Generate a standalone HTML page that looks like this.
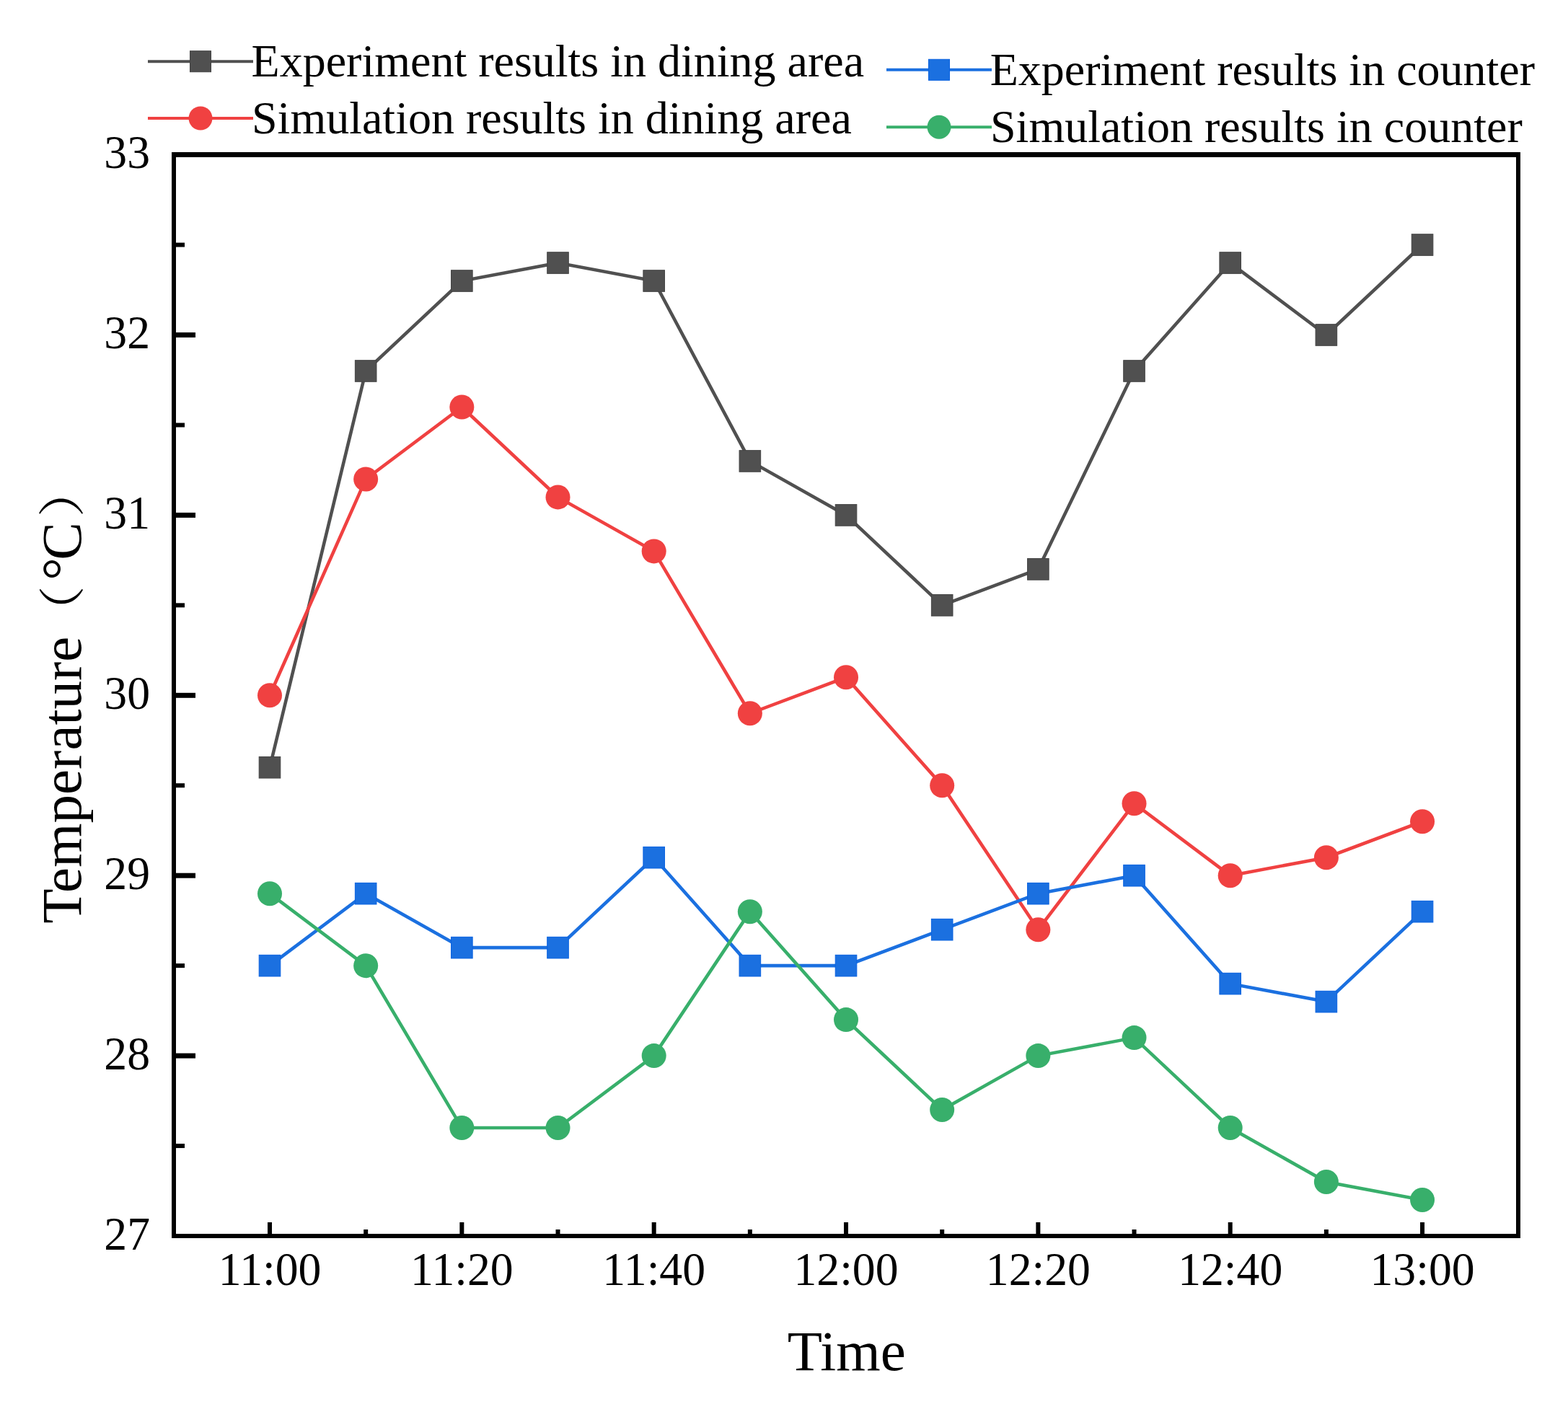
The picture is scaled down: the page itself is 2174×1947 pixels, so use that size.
<!DOCTYPE html>
<html><head><meta charset="utf-8"><title>Temperature chart</title>
<style>html,body{margin:0;padding:0;background:#fff;}svg{display:block;}text{font-family:'Liberation Serif', 'Times New Roman', serif;fill:#000;}</style></head><body>
<svg width="2174" height="1947" viewBox="0 0 2174 1947">
<rect x="0" y="0" width="2174" height="1947" fill="#fff"/>
<polyline points="374.00,1064.26 507.17,514.48 640.34,389.53 773.51,364.54 906.68,389.53 1039.85,639.43 1173.02,714.40 1306.19,839.35 1439.36,789.37 1572.53,514.48 1705.70,364.54 1838.87,464.50 1972.04,339.55" fill="none" stroke="#505050" stroke-width="4.6" stroke-linejoin="miter"/>
<rect x="359.20" y="1049.46" width="29.60" height="29.60" fill="#505050" stroke="#444444" stroke-width="1"/>
<rect x="492.37" y="499.68" width="29.60" height="29.60" fill="#505050" stroke="#444444" stroke-width="1"/>
<rect x="625.54" y="374.73" width="29.60" height="29.60" fill="#505050" stroke="#444444" stroke-width="1"/>
<rect x="758.71" y="349.74" width="29.60" height="29.60" fill="#505050" stroke="#444444" stroke-width="1"/>
<rect x="891.88" y="374.73" width="29.60" height="29.60" fill="#505050" stroke="#444444" stroke-width="1"/>
<rect x="1025.05" y="624.63" width="29.60" height="29.60" fill="#505050" stroke="#444444" stroke-width="1"/>
<rect x="1158.22" y="699.60" width="29.60" height="29.60" fill="#505050" stroke="#444444" stroke-width="1"/>
<rect x="1291.39" y="824.55" width="29.60" height="29.60" fill="#505050" stroke="#444444" stroke-width="1"/>
<rect x="1424.56" y="774.57" width="29.60" height="29.60" fill="#505050" stroke="#444444" stroke-width="1"/>
<rect x="1557.73" y="499.68" width="29.60" height="29.60" fill="#505050" stroke="#444444" stroke-width="1"/>
<rect x="1690.90" y="349.74" width="29.60" height="29.60" fill="#505050" stroke="#444444" stroke-width="1"/>
<rect x="1824.07" y="449.70" width="29.60" height="29.60" fill="#505050" stroke="#444444" stroke-width="1"/>
<rect x="1957.24" y="324.75" width="29.60" height="29.60" fill="#505050" stroke="#444444" stroke-width="1"/>
<polyline points="374.00,964.30 507.17,664.42 640.34,564.46 773.51,689.41 906.68,764.38 1039.85,989.29 1173.02,939.31 1306.19,1089.25 1439.36,1289.17 1572.53,1114.24 1705.70,1214.20 1838.87,1189.21 1972.04,1139.23" fill="none" stroke="#F04141" stroke-width="4.6" stroke-linejoin="miter"/>
<circle cx="374.00" cy="964.30" r="17.00" fill="#F04141"/>
<circle cx="507.17" cy="664.42" r="17.00" fill="#F04141"/>
<circle cx="640.34" cy="564.46" r="17.00" fill="#F04141"/>
<circle cx="773.51" cy="689.41" r="17.00" fill="#F04141"/>
<circle cx="906.68" cy="764.38" r="17.00" fill="#F04141"/>
<circle cx="1039.85" cy="989.29" r="17.00" fill="#F04141"/>
<circle cx="1173.02" cy="939.31" r="17.00" fill="#F04141"/>
<circle cx="1306.19" cy="1089.25" r="17.00" fill="#F04141"/>
<circle cx="1439.36" cy="1289.17" r="17.00" fill="#F04141"/>
<circle cx="1572.53" cy="1114.24" r="17.00" fill="#F04141"/>
<circle cx="1705.70" cy="1214.20" r="17.00" fill="#F04141"/>
<circle cx="1838.87" cy="1189.21" r="17.00" fill="#F04141"/>
<circle cx="1972.04" cy="1139.23" r="17.00" fill="#F04141"/>
<polyline points="374.00,1339.15 507.17,1239.19 640.34,1314.16 773.51,1314.16 906.68,1189.21 1039.85,1339.15 1173.02,1339.15 1306.19,1289.17 1439.36,1239.19 1572.53,1214.20 1705.70,1364.14 1838.87,1389.13 1972.04,1264.18" fill="none" stroke="#1B70E0" stroke-width="4.6" stroke-linejoin="miter"/>
<rect x="359.20" y="1324.35" width="29.60" height="29.60" fill="#1B70E0" stroke="#0A62E0" stroke-width="1"/>
<rect x="492.37" y="1224.39" width="29.60" height="29.60" fill="#1B70E0" stroke="#0A62E0" stroke-width="1"/>
<rect x="625.54" y="1299.36" width="29.60" height="29.60" fill="#1B70E0" stroke="#0A62E0" stroke-width="1"/>
<rect x="758.71" y="1299.36" width="29.60" height="29.60" fill="#1B70E0" stroke="#0A62E0" stroke-width="1"/>
<rect x="891.88" y="1174.41" width="29.60" height="29.60" fill="#1B70E0" stroke="#0A62E0" stroke-width="1"/>
<rect x="1025.05" y="1324.35" width="29.60" height="29.60" fill="#1B70E0" stroke="#0A62E0" stroke-width="1"/>
<rect x="1158.22" y="1324.35" width="29.60" height="29.60" fill="#1B70E0" stroke="#0A62E0" stroke-width="1"/>
<rect x="1291.39" y="1274.37" width="29.60" height="29.60" fill="#1B70E0" stroke="#0A62E0" stroke-width="1"/>
<rect x="1424.56" y="1224.39" width="29.60" height="29.60" fill="#1B70E0" stroke="#0A62E0" stroke-width="1"/>
<rect x="1557.73" y="1199.40" width="29.60" height="29.60" fill="#1B70E0" stroke="#0A62E0" stroke-width="1"/>
<rect x="1690.90" y="1349.34" width="29.60" height="29.60" fill="#1B70E0" stroke="#0A62E0" stroke-width="1"/>
<rect x="1824.07" y="1374.33" width="29.60" height="29.60" fill="#1B70E0" stroke="#0A62E0" stroke-width="1"/>
<rect x="1957.24" y="1249.38" width="29.60" height="29.60" fill="#1B70E0" stroke="#0A62E0" stroke-width="1"/>
<polyline points="374.00,1239.19 507.17,1339.15 640.34,1564.06 773.51,1564.06 906.68,1464.10 1039.85,1264.18 1173.02,1414.12 1306.19,1539.07 1439.36,1464.10 1572.53,1439.11 1705.70,1564.06 1838.87,1639.03 1972.04,1664.02" fill="none" stroke="#38AF6B" stroke-width="4.6" stroke-linejoin="miter"/>
<circle cx="374.00" cy="1239.19" r="17.00" fill="#38AF6B"/>
<circle cx="507.17" cy="1339.15" r="17.00" fill="#38AF6B"/>
<circle cx="640.34" cy="1564.06" r="17.00" fill="#38AF6B"/>
<circle cx="773.51" cy="1564.06" r="17.00" fill="#38AF6B"/>
<circle cx="906.68" cy="1464.10" r="17.00" fill="#38AF6B"/>
<circle cx="1039.85" cy="1264.18" r="17.00" fill="#38AF6B"/>
<circle cx="1173.02" cy="1414.12" r="17.00" fill="#38AF6B"/>
<circle cx="1306.19" cy="1539.07" r="17.00" fill="#38AF6B"/>
<circle cx="1439.36" cy="1464.10" r="17.00" fill="#38AF6B"/>
<circle cx="1572.53" cy="1439.11" r="17.00" fill="#38AF6B"/>
<circle cx="1705.70" cy="1564.06" r="17.00" fill="#38AF6B"/>
<circle cx="1838.87" cy="1639.03" r="17.00" fill="#38AF6B"/>
<circle cx="1972.04" cy="1664.02" r="17.00" fill="#38AF6B"/>
<rect x="238" y="211" width="1870" height="7" fill="#000"/>
<rect x="238" y="1711" width="1870" height="6" fill="#000"/>
<rect x="238" y="211" width="6" height="1506" fill="#000"/>
<rect x="2102" y="211" width="6" height="1506" fill="#000"/>
<rect x="244" y="1460.60" width="27" height="7" fill="#000"/>
<rect x="244" y="1210.70" width="27" height="7" fill="#000"/>
<rect x="244" y="960.80" width="27" height="7" fill="#000"/>
<rect x="244" y="710.90" width="27" height="7" fill="#000"/>
<rect x="244" y="461.00" width="27" height="7" fill="#000"/>
<rect x="244" y="1586.05" width="12" height="6" fill="#000"/>
<rect x="244" y="1336.15" width="12" height="6" fill="#000"/>
<rect x="244" y="1086.25" width="12" height="6" fill="#000"/>
<rect x="244" y="836.35" width="12" height="6" fill="#000"/>
<rect x="244" y="586.45" width="12" height="6" fill="#000"/>
<rect x="244" y="336.55" width="12" height="6" fill="#000"/>
<rect x="371.00" y="1695" width="6" height="16" fill="#000"/>
<rect x="504.17" y="1705" width="6" height="6" fill="#000"/>
<rect x="637.34" y="1695" width="6" height="16" fill="#000"/>
<rect x="770.51" y="1705" width="6" height="6" fill="#000"/>
<rect x="903.68" y="1695" width="6" height="16" fill="#000"/>
<rect x="1036.85" y="1705" width="6" height="6" fill="#000"/>
<rect x="1170.02" y="1695" width="6" height="16" fill="#000"/>
<rect x="1303.19" y="1705" width="6" height="6" fill="#000"/>
<rect x="1436.36" y="1695" width="6" height="16" fill="#000"/>
<rect x="1569.53" y="1705" width="6" height="6" fill="#000"/>
<rect x="1702.70" y="1695" width="6" height="16" fill="#000"/>
<rect x="1835.87" y="1705" width="6" height="6" fill="#000"/>
<rect x="1969.04" y="1695" width="6" height="16" fill="#000"/>
<text transform="translate(208,1732.50) scale(0.965,1)" font-size="66" text-anchor="end">27</text>
<text transform="translate(208,1482.60) scale(0.965,1)" font-size="66" text-anchor="end">28</text>
<text transform="translate(208,1232.70) scale(0.965,1)" font-size="66" text-anchor="end">29</text>
<text transform="translate(208,982.80) scale(0.965,1)" font-size="66" text-anchor="end">30</text>
<text transform="translate(208,732.90) scale(0.965,1)" font-size="66" text-anchor="end">31</text>
<text transform="translate(208,483.00) scale(0.965,1)" font-size="66" text-anchor="end">32</text>
<text transform="translate(208,233.10) scale(0.965,1)" font-size="66" text-anchor="end">33</text>
<text transform="translate(374.00,1782) scale(0.965,1)" font-size="66" text-anchor="middle">11:00</text>
<text transform="translate(640.34,1782) scale(0.965,1)" font-size="66" text-anchor="middle">11:20</text>
<text transform="translate(906.68,1782) scale(0.965,1)" font-size="66" text-anchor="middle">11:40</text>
<text transform="translate(1173.02,1782) scale(0.965,1)" font-size="66" text-anchor="middle">12:00</text>
<text transform="translate(1439.36,1782) scale(0.965,1)" font-size="66" text-anchor="middle">12:20</text>
<text transform="translate(1705.70,1782) scale(0.965,1)" font-size="66" text-anchor="middle">12:40</text>
<text transform="translate(1972.04,1782) scale(0.965,1)" font-size="66" text-anchor="middle">13:00</text>
<text x="1091.8" y="1900" font-size="79">Time</text>
<text transform="translate(112,1280.7) rotate(-90)" font-size="79">Temperature</text>
<text transform="translate(109.0,884.5) rotate(-90) scale(0.917,0.816)" font-size="79" style="font-family:'Noto Serif CJK SC','Liberation Serif',serif">（</text>
<text transform="translate(112,804.8) rotate(-90)" font-size="79">°</text>
<text transform="translate(112,776.7) rotate(-90)" font-size="79">C</text>
<text transform="translate(108.96,717.6) rotate(-90) scale(0.948,0.824)" font-size="79" style="font-family:'Noto Serif CJK SC','Liberation Serif',serif">）</text>
<line x1="205.0" y1="85.2" x2="351.0" y2="85.2" stroke="#505050" stroke-width="4"/>
<rect x="263.50" y="70.70" width="29" height="29" fill="#505050" stroke="#444444" stroke-width="1"/>
<text x="348.6" y="106.3" font-size="64">Experiment results in dining area</text>
<line x1="205.0" y1="164.0" x2="351.0" y2="164.0" stroke="#F04141" stroke-width="4"/>
<circle cx="278.00" cy="164.00" r="16.50" fill="#F04141"/>
<text x="349.0" y="184.9" font-size="64">Simulation results in dining area</text>
<line x1="1229.0" y1="96.8" x2="1375.0" y2="96.8" stroke="#1B70E0" stroke-width="4"/>
<rect x="1287.50" y="82.30" width="29" height="29" fill="#1B70E0" stroke="#0A62E0" stroke-width="1"/>
<text x="1372.7" y="117.8" font-size="64">Experiment results in counter</text>
<line x1="1229.0" y1="176.2" x2="1375.0" y2="176.2" stroke="#38AF6B" stroke-width="4"/>
<circle cx="1302.00" cy="176.20" r="16.50" fill="#38AF6B"/>
<text x="1373.0" y="197.3" font-size="64">Simulation results in counter</text>
</svg></body></html>
